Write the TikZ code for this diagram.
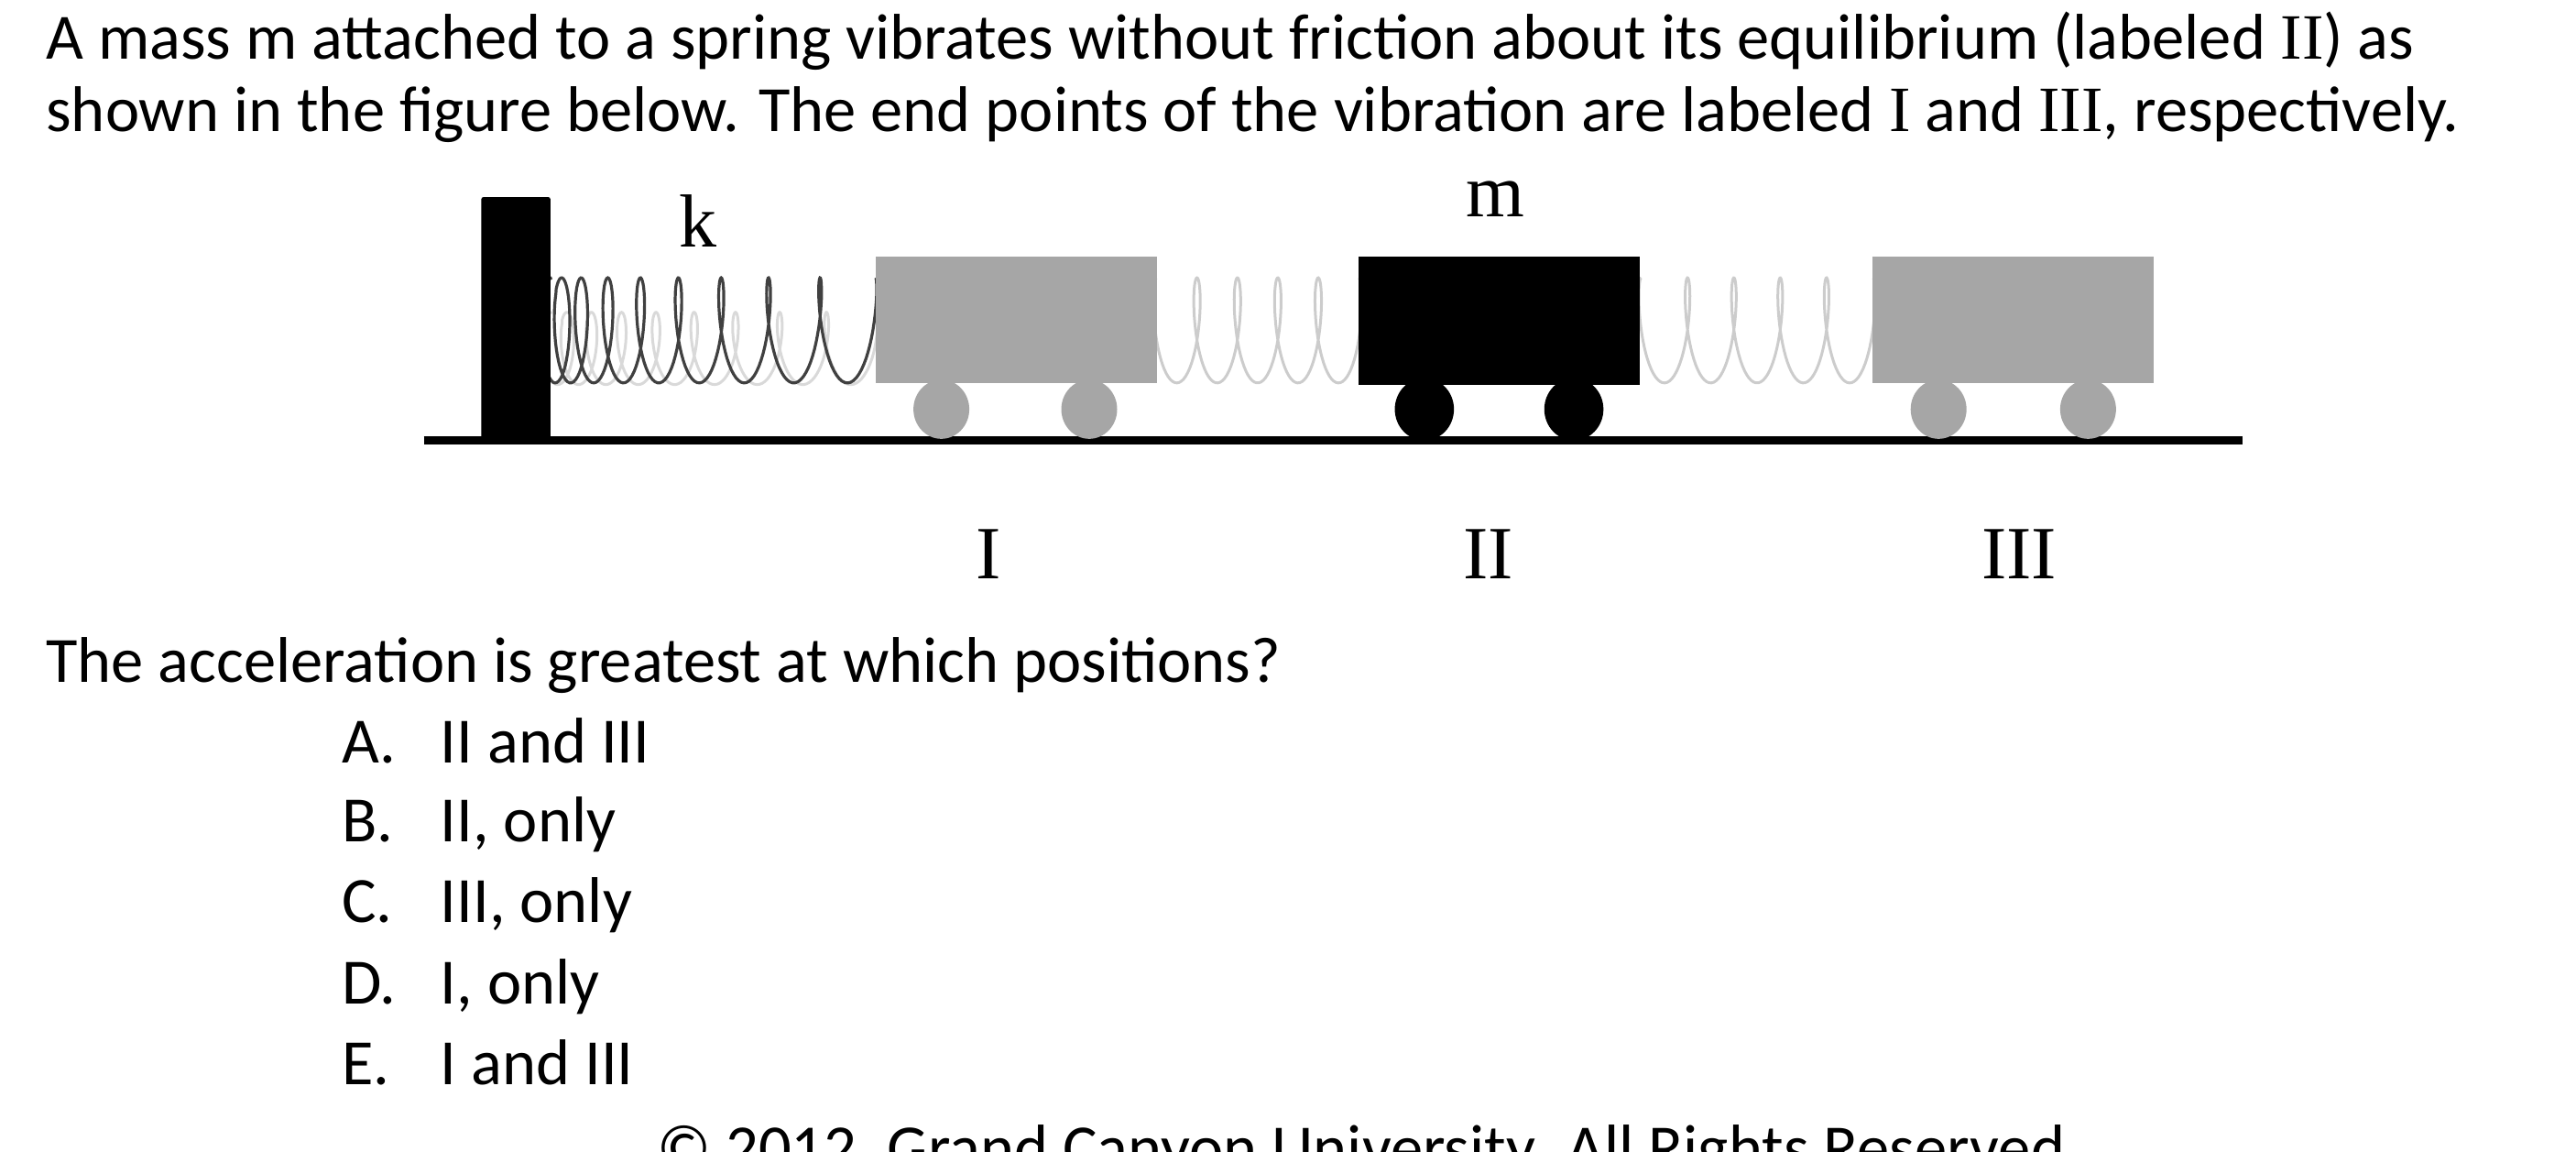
\documentclass[tikz,border=0pt]{standalone}
\usepackage{fontspec}
\setmainfont{Carlito}
\newfontfamily\serifx{Liberation Serif}
\begin{document}
\begin{tikzpicture}[x=1.793pt,y=-1.793pt,
  txt/.style={anchor=base west,inner sep=0pt,font=\fontsize{70.5}{80}\selectfont},
  lbl/.style={anchor=base,inner sep=0pt,font=\serifx\fontsize{82}{86}\selectfont},
  gblock/.style={fill=gray!70!white},
  bblock/.style={fill=black}]
\useasboundingbox (0,0) rectangle (1568,700.5);
\clip (0,0) rectangle (1568,700.5);
% texts
\node[txt] (t1) at (28,36) {A mass m attached to a spring vibrates without friction about its equilibrium (labeled {\serifx II}) as};
\node[txt] (t2) at (28,80) {shown in the figure below. The end points of the vibration are labeled {\serifx I} and {\serifx III}, respectively.};
\node[txt] (q) at (28,415) {The acceleration is greatest at which positions?};
\foreach \l/\t/\y in {A/II and III/464, B/{II, only}/512, C/{III, only}/561, D/{I, only}/611, E/I and III/660}{
  \node[txt] (o\l) at (208,\y) {\l.};
  \node[txt] (p\l) at (268,\y) {\t};
}
\node[txt] (c) at (400,712) {\textcopyright{} 2012, Grand Canyon University. All Rights Reserved.};
% shadow spring
\draw[gray!30,line width=3pt] plot[domain=0:3240,samples=400,variable=\t] ({336+197*(\t/3240)^1.4-7*sin(\t)},{212-22*cos(\t)});
% dark spring
\draw[black!75,line width=3.2pt] plot[domain=0:3240,samples=400,variable=\t] ({336+197*(\t/3240)^1.6-7*sin(\t)},{201-32*cos(\t)});
% light springs
\draw[gray!40,line width=3pt] plot[domain=0:1800,samples=250,variable=\t] ({704+(\t/1800)*123-7*sin(\t)},{201-32*cos(\t)});
\draw[gray!40,line width=3pt] plot[domain=0:1800,samples=250,variable=\t] ({999+(\t/1800)*141-7*sin(\t)},{201-32*cos(\t)});
% wall and ground
\fill[black,rounded corners=2pt] (293,120) rectangle (335,270);
\draw[black,line width=9pt] (258,268) -- (1365,268);
% blocks
\fill[gblock] (533,156) rectangle (704,233);
\fill[gblock] (573,249) ellipse (17 and 18);
\fill[gblock] (663,249) ellipse (17 and 18);
\fill[bblock] (827,156) rectangle (998,234);
\fill[bblock] (867,249) ellipse (18 and 19);
\fill[bblock] (958,249) ellipse (18 and 19);
\fill[gblock] (1140,156) rectangle (1311,233);
\fill[gblock] (1180,249) ellipse (17 and 18);
\fill[gblock] (1271,249) ellipse (17 and 18);
% labels
\node[lbl] (k) at (425,150) {k};
\node[lbl] (m) at (910,132) {m};
\node[lbl] (L1) at (602,352) {I};
\node[lbl] (L2) at (906,352) {II};
\node[lbl] (L3) at (1229,352) {III};
\end{tikzpicture}
\end{document}
